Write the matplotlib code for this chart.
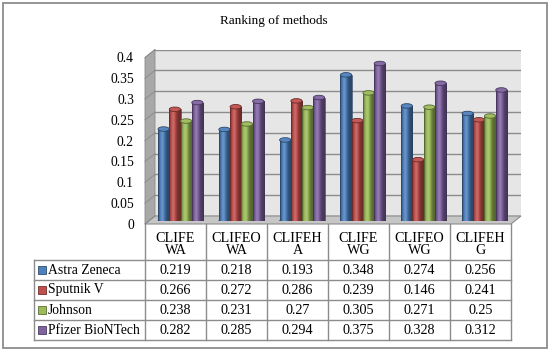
import numpy as np
import matplotlib
matplotlib.use("Agg")
import matplotlib.pyplot as plt
from matplotlib.patches import Polygon, Rectangle, Ellipse
from matplotlib.colors import to_rgb

# ---------------- data ----------------
title = "Ranking of methods"
categories = ["CLIFE\nWA", "CLIFEO\nWA", "CLIFEH\nA", "CLIFE\nWG", "CLIFEO\nWG", "CLIFEH\nG"]
series_names = ["Astra Zeneca", "Sputnik V", "Johnson", "Pfizer BioNTech"]
astra_zeneca = [0.219, 0.218, 0.193, 0.348, 0.274, 0.256]
sputnik_v = [0.266, 0.272, 0.286, 0.239, 0.146, 0.241]
johnson = [0.238, 0.231, 0.27, 0.305, 0.271, 0.25]
pfizer = [0.282, 0.285, 0.294, 0.375, 0.328, 0.312]
y_ticks = [0, 0.05, 0.1, 0.15, 0.2, 0.25, 0.3, 0.35, 0.4]
y_tick_labels = ["0", "0.05", "0.1", "0.15", "0.2", "0.25", "0.3", "0.35", "0.4"]
series_values = [astra_zeneca, sputnik_v, johnson, pfizer]
colors = ["#4F81BD", "#C0504D", "#9BBB59", "#8064A2"]

plt.rcParams["font.family"] = ["Liberation Serif", "DejaVu Serif"]

W, H = 550, 352
fig = plt.figure(figsize=(5.5, 3.52), dpi=100)
fig.patch.set_facecolor("white")


def box(x0, y0, x1, y1):
    return [x0 / W, 1 - y1 / H, (x1 - x0) / W, (y1 - y0) / H]


def shade(c, f):
    c = np.array(to_rgb(c))
    if f <= 1:
        return np.clip(c * f, 0, 1)
    return np.clip(c + (1 - c) * (f - 1), 0, 1)


YMAX = 0.4
# geometry (pixels, top-left origin)
FRONT_L, FRONT_R, FRONT_B, FRONT_T = 145, 511, 224, 57
DX, DY = 10, 8
BACK_L, BACK_R, BACK_B, BACK_T = FRONT_L + DX, FRONT_R + DX, FRONT_B - DY, 49.5

# ---------- underlay: border, side wall, floor ----------
ax_u = fig.add_axes([0, 0, 1, 1], zorder=1)
ax_u.set_xlim(0, W)
ax_u.set_ylim(H, 0)
ax_u.axis("off")
ax_u.patch.set_alpha(0)
ax_u.add_patch(Rectangle((3, 3), 544, 345, fc="none", ec="#8c8c8c", lw=1.3))
ax_u.text(273.5, 21, title, ha="center", va="center", fontsize=9.5)
side = Polygon([(FRONT_L, FRONT_T + 0.5), (BACK_L, BACK_T), (BACK_L, BACK_B), (FRONT_L, FRONT_B)],
               closed=True, fc="#a8a8a8", ec="#8a8a8a", lw=0.6)
ax_u.add_patch(side)
floor = Polygon([(FRONT_L, FRONT_B), (BACK_L, BACK_B), (BACK_R, BACK_B), (FRONT_R, FRONT_B)],
                closed=True, fc="#c6c6c6", ec="#8c8c8c", lw=0.8)
ax_u.add_patch(floor)
for v in y_ticks:
    yb = BACK_B - v / YMAX * (BACK_B - BACK_T)
    ax_u.plot([FRONT_L, BACK_L], [yb + DY, yb], color="#8a8a8a", lw=0.6)

# ---------- back wall ----------
ax_back = fig.add_axes(box(BACK_L, BACK_T, BACK_R, BACK_B), zorder=0)
ax_back.set_xlim(0, 1)
ax_back.set_ylim(0, YMAX)
ax_back.set_facecolor("#e6e6e6")
for v in y_ticks:
    ax_back.axhline(v, color="#8c8c8c", lw=1.0)
for s in ax_back.spines.values():
    s.set_visible(False)
ax_back.set_xticks([])
ax_back.set_yticks([])

# ---------- tick labels (front plane) ----------
ax_f = fig.add_axes(box(FRONT_L, FRONT_T, FRONT_R, FRONT_B), zorder=1.5)
ax_f.set_ylim(0, YMAX)
ax_f.set_yticks(y_ticks)
ax_f.set_yticklabels(y_tick_labels, fontsize=9.8)
ax_f.set_xticks([])
ax_f.tick_params(axis="y", length=0, pad=8)
for s in ax_f.spines.values():
    s.set_visible(False)
ax_f.patch.set_alpha(0)

# ---------- bars (cylinders) ----------
BAR_L, BAR_R, BAR_B, BAR_T = 150.1, 514.9, 221, 53
ax_b = fig.add_axes(box(BAR_L, BAR_T, BAR_R, BAR_B), zorder=2)
ax_b.patch.set_alpha(0)
n = len(categories)
bw = 0.185
x = np.arange(n)
t = np.linspace(0, 1, 40)
profile = 0.55 + 0.6 * np.exp(-((t - 0.35) / 0.27) ** 2)
cap_h = 4.5 / (BAR_B - BAR_T) * YMAX
for i, (vals, c) in enumerate(zip(series_values, colors)):
    grad = np.array([shade(c, f) for f in profile])[np.newaxis, :, :]
    xs = x + (i - 1.5) * bw
    bars = ax_b.bar(xs, vals, bw, color="none", edgecolor="none")
    for xc, v, patch in zip(xs, vals, bars.patches):
        z = 3 + i * 0.01
        ax_b.add_patch(Ellipse((xc, 0), bw, cap_h, fc=shade(c, 0.8), ec=shade(c, 0.6), lw=0.5, zorder=z - 0.005))
        im = ax_b.imshow(grad, extent=[xc - bw / 2, xc + bw / 2, 0, v], aspect="auto",
                         interpolation="bilinear", zorder=z)
        im.set_clip_path(patch)
        ax_b.plot([xc - bw / 2, xc - bw / 2], [0, v], color=shade(c, 0.5), lw=0.5, zorder=z + 0.001)
        ax_b.plot([xc + bw / 2, xc + bw / 2], [0, v], color=shade(c, 0.5), lw=0.5, zorder=z + 0.001)
        ax_b.add_patch(Ellipse((xc, v), bw, cap_h, fc=shade(c, 1.05), ec=shade(c, 0.55), lw=0.6, zorder=z + 0.002))
ax_b.set_xlim(-0.5, n - 0.5)
ax_b.set_ylim(0, YMAX)
ax_b.axis("off")

# ---------- data table ----------
ax_t = fig.add_axes([0, 0, 1, 1], zorder=3)
ax_t.set_xlim(0, W)
ax_t.set_ylim(H, 0)
ax_t.axis("off")
ax_t.patch.set_alpha(0)
LC = "#8c8c8c"
col_w = (FRONT_R - FRONT_L) / n
col_x = [FRONT_L + col_w * k for k in range(n + 1)]
row_y = [260, 280, 300, 320, 340]
TAB_L = 34
for cx in col_x:
    ax_t.plot([cx, cx], [FRONT_B, row_y[-1]], color=LC, lw=1.0)
ax_t.plot([TAB_L, TAB_L], [row_y[0], row_y[-1]], color=LC, lw=1.0)
for ry in row_y:
    ax_t.plot([TAB_L, FRONT_R], [ry, ry], color=LC, lw=1.0)
for k, cat in enumerate(categories):
    ax_t.text(col_x[k] + col_w / 2, 244.5, cat, ha="center", va="center",
              fontsize=10.2, linespacing=0.95)
for r, (name, vals, c) in enumerate(zip(series_names, series_values, colors)):
    yc = (row_y[r] + row_y[r + 1]) / 2
    ax_t.add_patch(Rectangle((38, yc - 4), 8, 8, fc=c, ec=shade(c, 0.6), lw=0.6))
    ax_t.text(48, yc, name, ha="left", va="center", fontsize=9.8)
    for k, v in enumerate(vals):
        ax_t.text(col_x[k] + col_w / 2, yc, str(v), ha="center", va="center", fontsize=10.2)

fig.savefig("out.png", dpi=100)
